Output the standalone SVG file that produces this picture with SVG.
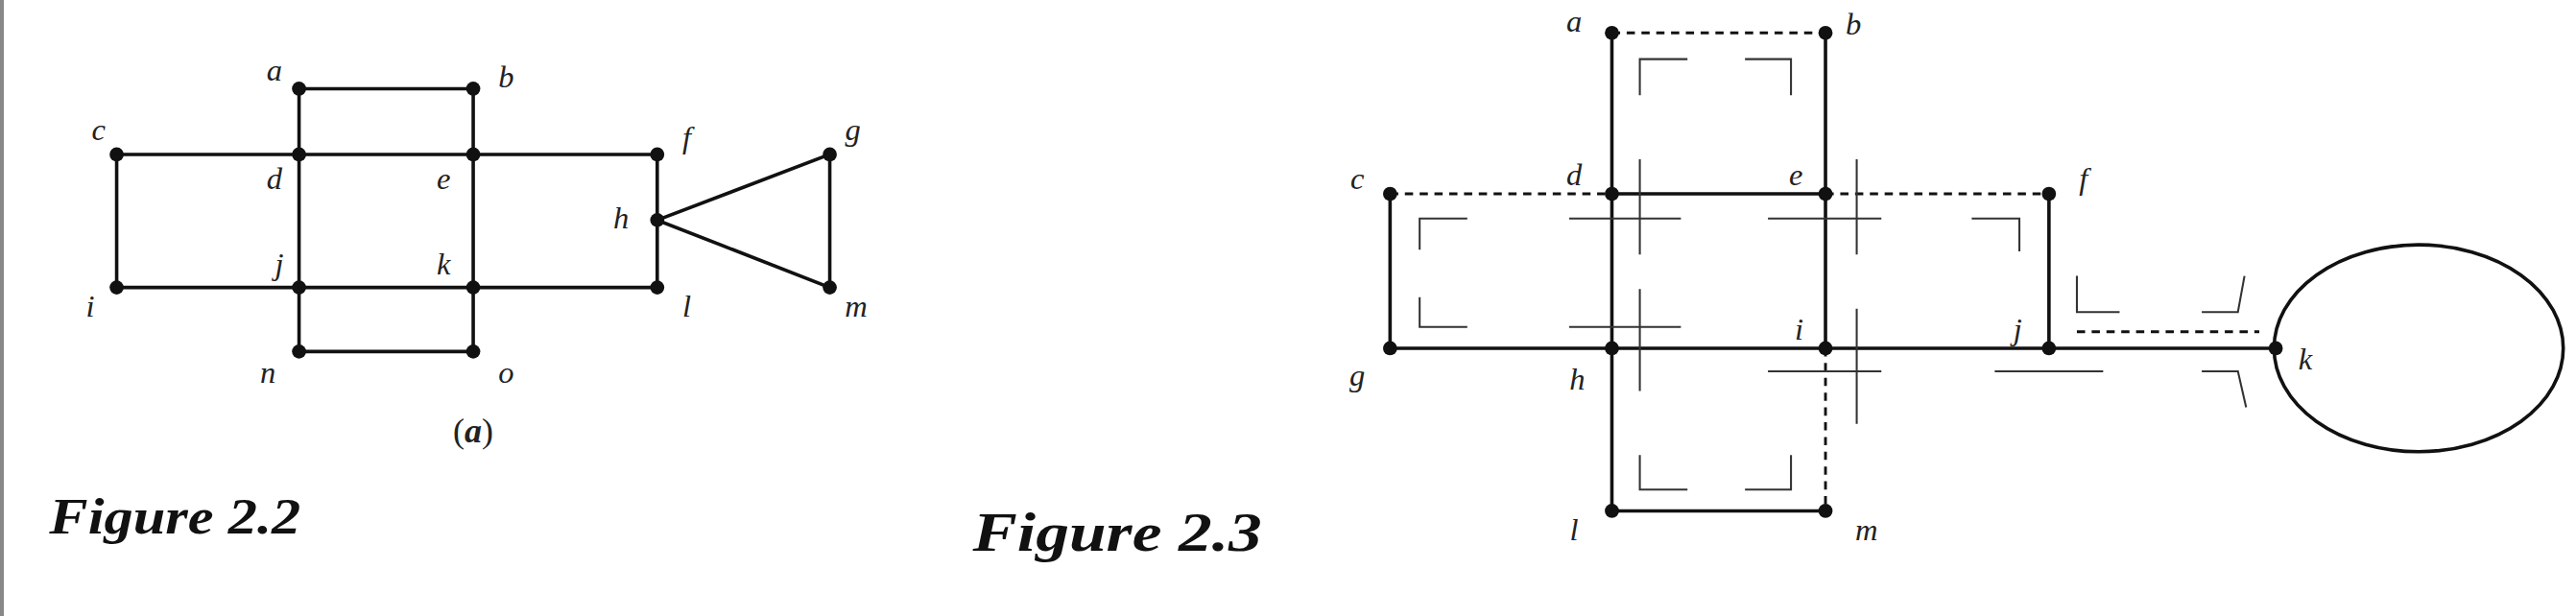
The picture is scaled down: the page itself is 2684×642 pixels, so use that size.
<svg xmlns="http://www.w3.org/2000/svg" width="2684" height="642" viewBox="0 0 2684 642">
<style>
.e{stroke:#111;stroke-width:2.1;fill:none}
.d{stroke:#111;stroke-width:1.7;fill:none;stroke-dasharray:5 4}
.t{stroke:#333;stroke-width:1.2;fill:none}
.n{fill:#111}
.l{font-family:"Liberation Serif",serif;font-style:italic;font-size:19px;fill:#222;text-anchor:middle}
.f{font-family:"Liberation Serif",serif;font-style:italic;font-weight:bold;font-size:31px;fill:#111}
</style>
<rect width="2684" height="642" fill="#fff"/>
<rect x="0" y="0" width="4" height="642" fill="#888"/>
<g transform="scale(1.712)">
<g id="fig22-edges">
<path class="e" d="M182 54H288M71 94H400M71 175H400M182 214H288M71 94V175M182 54V214M288 54V214M400 94V175M400 134L505 94V175Z"/>
</g>
<g id="fig22-nodes" class="n">
<circle cx="182" cy="54" r="4.3"/><circle cx="288" cy="54" r="4.3"/>
<circle cx="71" cy="94" r="4.3"/><circle cx="182" cy="94" r="4.3"/><circle cx="288" cy="94" r="4.3"/><circle cx="400" cy="94" r="4.3"/><circle cx="505" cy="94" r="4.3"/>
<circle cx="400" cy="134" r="4.3"/>
<circle cx="71" cy="175" r="4.3"/><circle cx="182" cy="175" r="4.3"/><circle cx="288" cy="175" r="4.3"/><circle cx="400" cy="175" r="4.3"/><circle cx="505" cy="175" r="4.3"/>
<circle cx="182" cy="214" r="4.3"/><circle cx="288" cy="214" r="4.3"/>
</g>
<g id="fig22-labels" class="l">
<text x="167" y="49">a</text><text x="308" y="53">b</text><text x="60" y="85">c</text><text x="167" y="115">d</text><text x="270" y="115">e</text><text x="418" y="90">f</text><text x="519" y="85">g</text><text x="378" y="139">h</text><text x="55" y="193">i</text><text x="170" y="167">j</text><text x="270" y="167">k</text><text x="418" y="193">l</text><text x="521" y="193">m</text><text x="163" y="233">n</text><text x="308" y="233">o</text>
<text x="288" y="269" style="font-style:normal;font-size:21px">(<tspan style="font-style:italic;font-weight:bold">a</tspan>)</text>
</g>
<text class="f" x="30" y="325" textLength="153" lengthAdjust="spacingAndGlyphs">Figure 2.2</text>

<g id="fig23-connectors">
<path class="d" d="M981 20H1111M846 118H981M1111 118H1247M1111 212V311M1264 202H1375"/>
<path class="e" d="M981 20V311M1111 20V212M981 118H1111M846 118V212M1247 118V212M846 212H1385M981 311H1111"/>
<ellipse class="e" cx="1472" cy="212" rx="88" ry="63"/>
</g>
<g id="fig23-marks" class="t">
<path d="M998 58V36H1027M1062 36H1090V58"/>
<path d="M864 152V133H893M864 181V199H893"/>
<path d="M955 133H1023M998 97V155M1076 133H1145M1130 97V155M955 199H1023M998 176V238M1076 226H1145M1130 188V258"/>
<path d="M1200 133H1229V153"/>
<path d="M998 277V298H1027M1062 298H1090V277"/>
<path d="M1264 168V190H1290M1340 190H1362L1366 168M1214 226H1280M1340 226H1362L1367 248"/>
</g>
<g id="fig23-nodes" class="n">
<circle cx="981" cy="20" r="4.3"/><circle cx="1111" cy="20" r="4.3"/>
<circle cx="846" cy="118" r="4.3"/><circle cx="981" cy="118" r="4.3"/><circle cx="1111" cy="118" r="4.3"/><circle cx="1247" cy="118" r="4.3"/>
<circle cx="846" cy="212" r="4.3"/><circle cx="981" cy="212" r="4.3"/><circle cx="1111" cy="212" r="4.3"/><circle cx="1247" cy="212" r="4.3"/><circle cx="1385" cy="212" r="4.3"/>
<circle cx="981" cy="311" r="4.3"/><circle cx="1111" cy="311" r="4.3"/>
</g>
<g id="fig23-labels" class="l">
<text x="958" y="19">a</text><text x="1128" y="21">b</text><text x="826" y="115">c</text><text x="958" y="113">d</text><text x="1093" y="113">e</text><text x="1268" y="115">f</text><text x="826" y="235">g</text><text x="960" y="237">h</text><text x="1095" y="207">i</text><text x="1228" y="207">j</text><text x="1403" y="225">k</text><text x="958" y="329">l</text><text x="1136" y="329">m</text>
</g>
<text class="f" x="592" y="335" textLength="176" lengthAdjust="spacingAndGlyphs" style="font-size:33px">Figure 2.3</text>
</g>
</svg>
